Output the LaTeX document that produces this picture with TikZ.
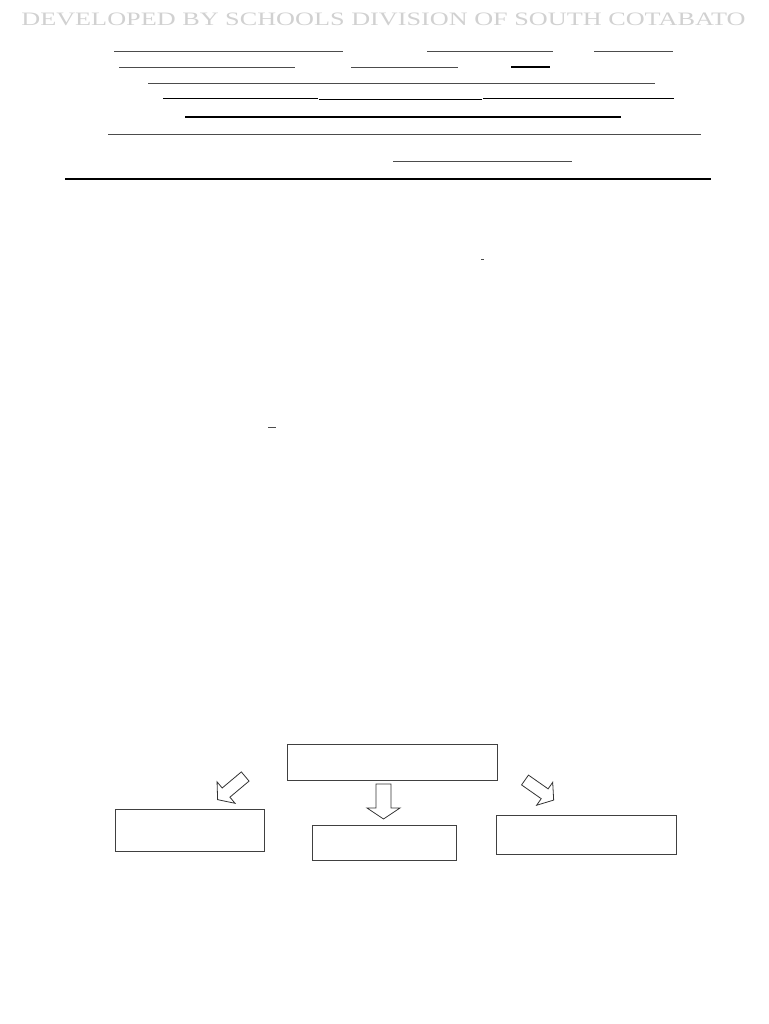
\documentclass[tikz,border=0pt]{standalone}
\usepackage{fontspec}
\newfontfamily\headerfont{Liberation Serif}
\tikzset{
  blank/.style={line width=1pt, black!70},
  blankdark/.style={line width=1.3pt, black},
  rule/.style={line width=2pt, black},
  answerbox/.style={draw=black!75, line width=0.8pt, rectangle, inner sep=0pt},
  fatarrow/.style={draw=black!80, line width=0.8pt, fill=white, line join=miter}
}
\newcommand{\fatarrowat}[6]{% tail x, tail y, angle, length, shaft half, head half
  \begin{scope}[shift={(#1,#2)}, rotate=#3]
    \draw[fatarrow] (0,#5) -- (#4-11,#5) -- (#4-11,#6) -- (#4,0) -- (#4-11,-#6)
      -- (#4-11,-#5) -- (0,-#5) -- cycle;
  \end{scope}}
\begin{document}
\begin{tikzpicture}[x=1pt, y=-1pt]
  \useasboundingbox (0,0) rectangle (768,1024);
  % header
  \node[anchor=base, text=black!18, xscale=1.38, font=\headerfont\fontsize{19}{19}\selectfont, inner sep=0pt] (header) at (383.5,26)
    {DEVELOPED BY SCHOOLS DIVISION OF SOUTH COTABATO};
  % blank lines of the heading
  \foreach \xa/\xb/\y in {114/343/51.5, 427/553/51.5, 594/673/51.5,
                          119/295/67.5, 351/458/67.5, 148/655/83.5, 108/701/135, 393/572/162}
    \draw[blank] (\xa,\y) -- (\xb,\y);
  \foreach \xa/\xb/\y in {511/550/67, 163/318/98.5, 319/482/99.5, 483/674/98.5, 185/621/117}
    \draw[blankdark] (\xa,\y) -- (\xb,\y);
  \draw[rule] (65,179) -- (711,179);
  % small dashes
  \draw[blank] (481,259) -- (484,259);
  \draw[blank] (268,427) -- (276,427);
  % boxes
  \node[answerbox, minimum width=210pt, minimum height=36pt] (topic) at (392,762) {};
  \node[answerbox, minimum width=149pt, minimum height=42pt] (left) at (189.5,830) {};
  \node[answerbox, minimum width=144pt, minimum height=35pt] (middle) at (384,842.5) {};
  \node[answerbox, minimum width=180pt, minimum height=39pt] (right) at (586,834.5) {};
  % arrows
  \fatarrowat{245.2}{776.5}{220}{36}{6}{14}
  \fatarrowat{383.5}{784}{-90}{35}{7.5}{16.5}
  \fatarrowat{525}{780}{-35}{35}{6}{14}
\end{tikzpicture}
\end{document}
